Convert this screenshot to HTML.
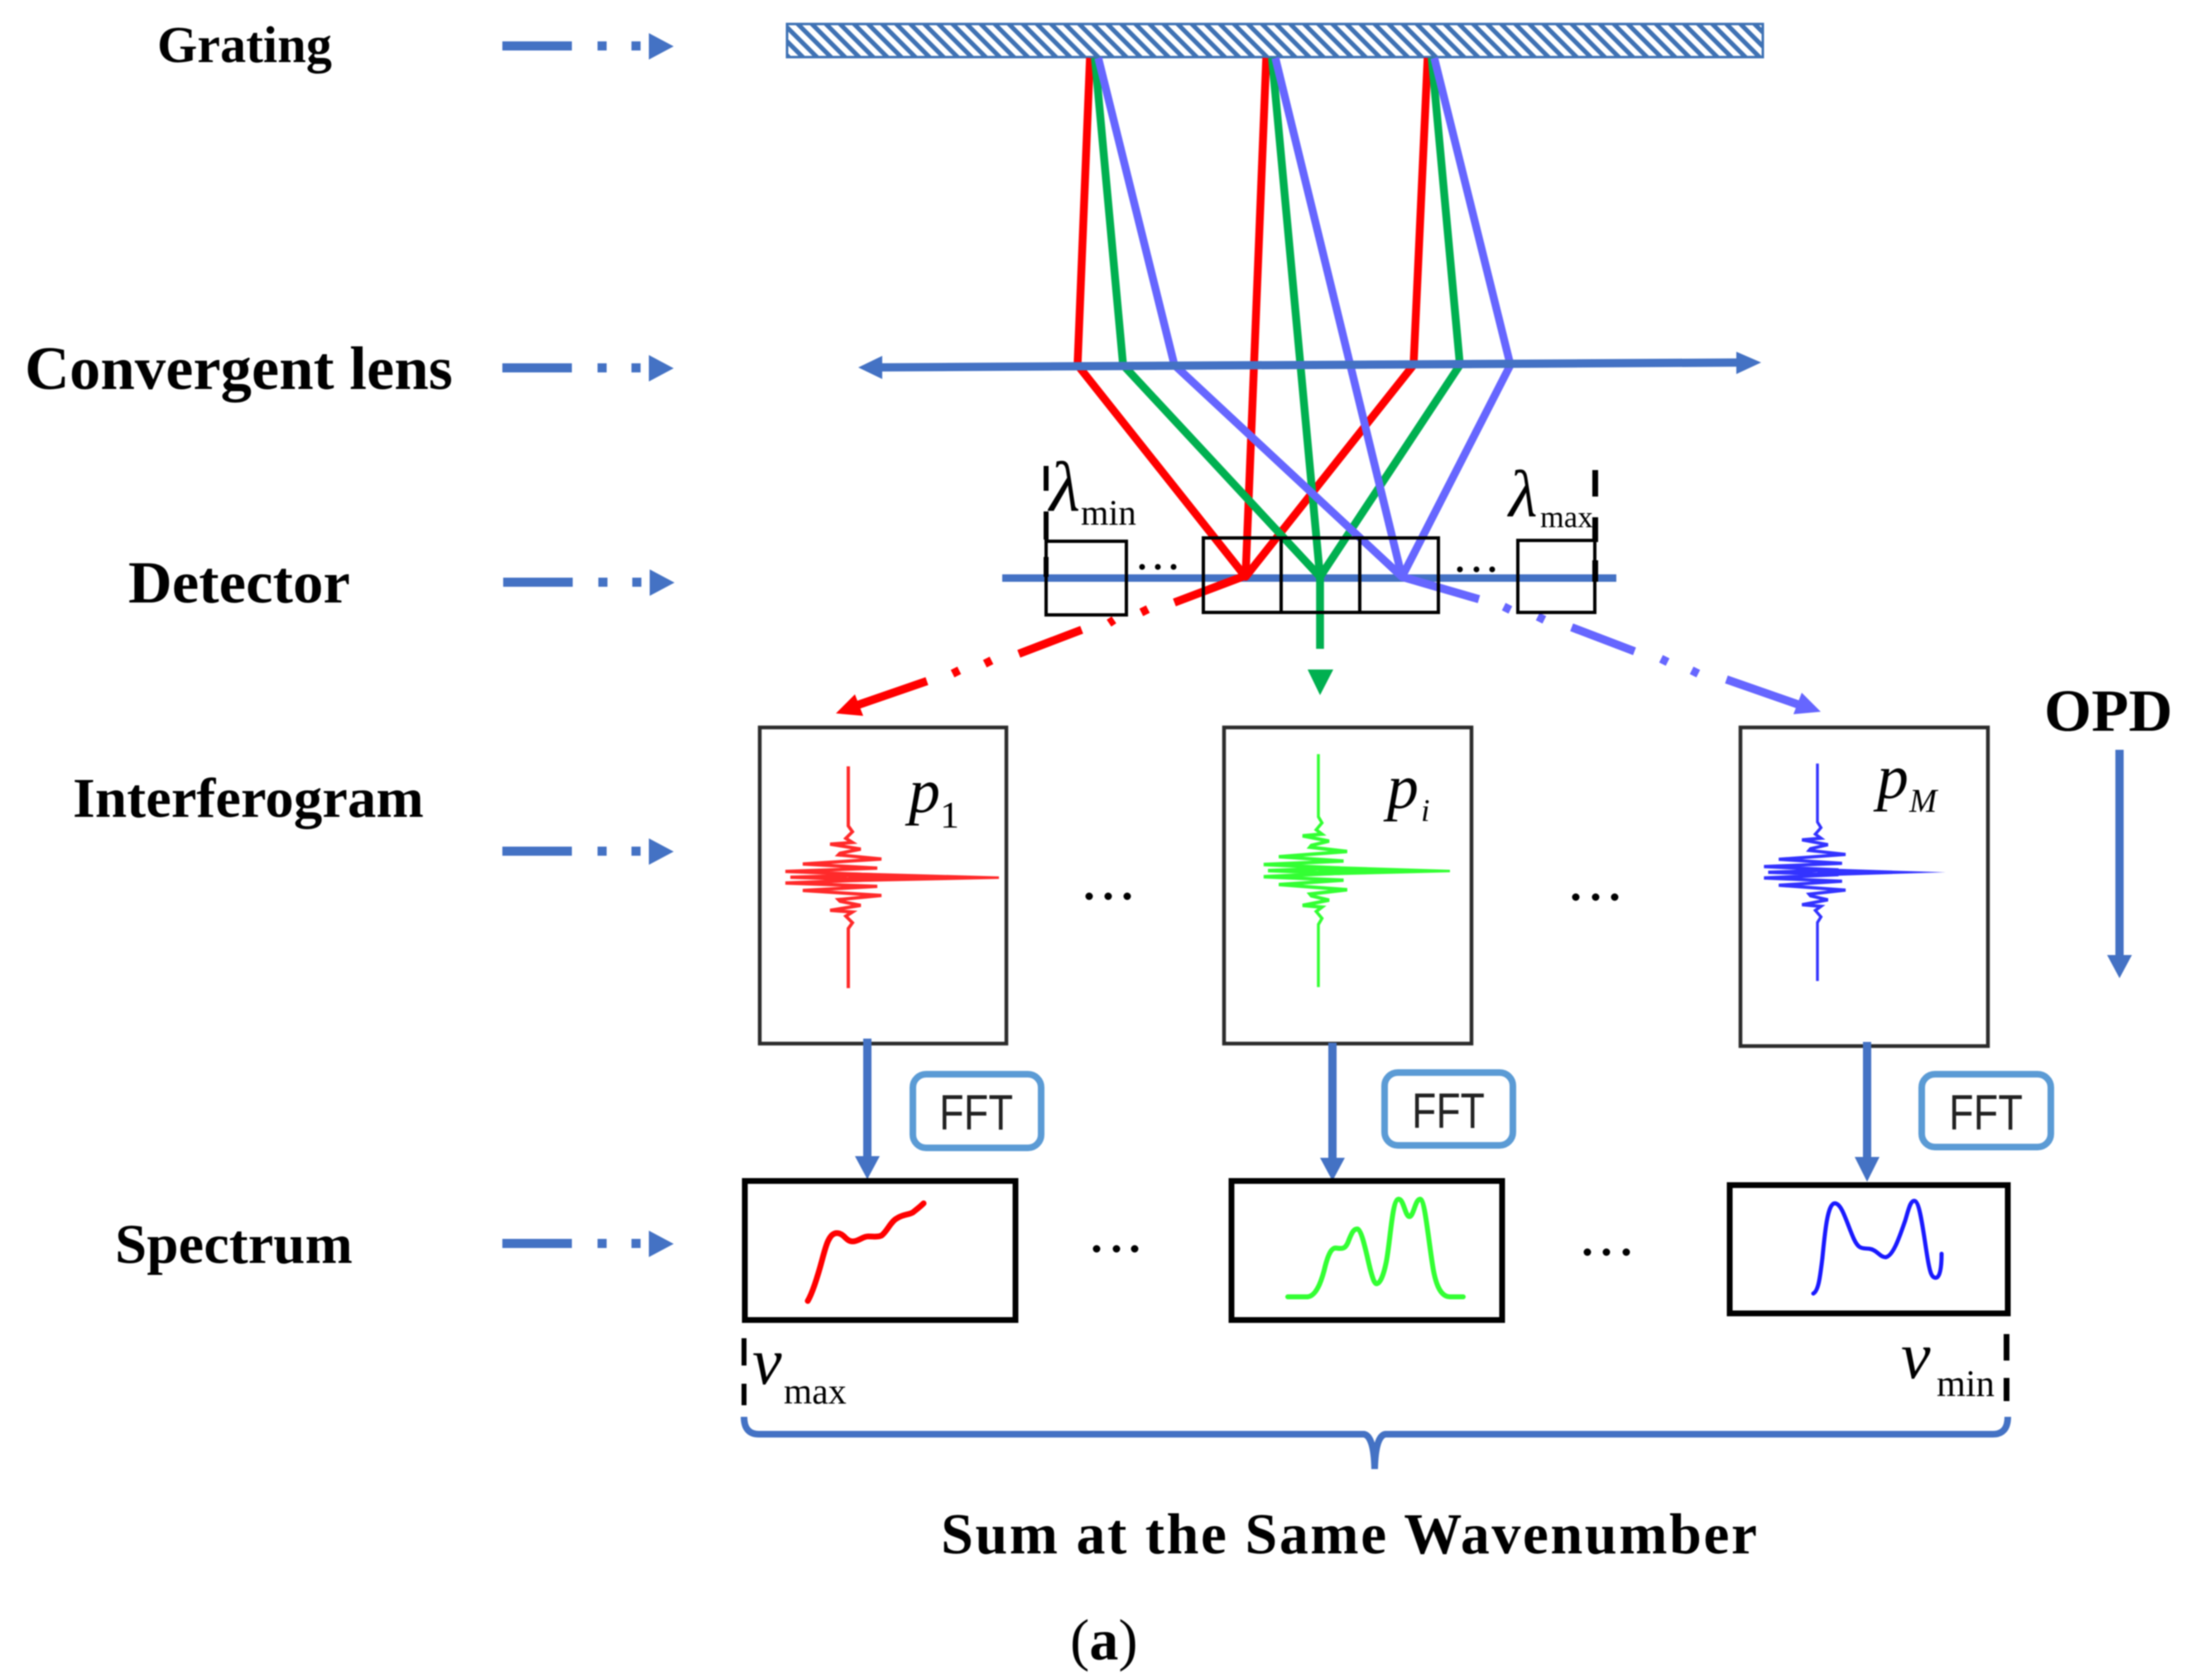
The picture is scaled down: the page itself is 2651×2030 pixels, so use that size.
<!DOCTYPE html>
<html>
<head>
<meta charset="utf-8">
<title>Diagram</title>
<style>
html,body{margin:0;padding:0;background:#fff}
svg{display:block;filter:blur(.8px)}
text{font-family:"Liberation Serif",serif;fill:#000}
.b{font-weight:bold}
.i{font-style:italic}
</style>
</head>
<body>
<svg xmlns="http://www.w3.org/2000/svg" width="2651" height="2030" viewBox="0 0 2651 2030">
<defs>
<pattern id="h" patternUnits="userSpaceOnUse" width="17" height="17">
<rect width="17" height="17" fill="#fff"/>
<path d="M-4,-4L21,21M-4,13L4,21M13,-4L21,4" stroke="#3f72b4" stroke-width="5.5"/>
</pattern>
<g id="la">
<rect x="607" y="-6" width="84" height="11" fill="#4472c4"/>
<rect x="722" y="-6" width="11" height="11" fill="#4472c4"/>
<rect x="763" y="-6" width="11" height="11" fill="#4472c4"/>
<polygon points="784,-16 814,0 784,16" fill="#4472c4"/>
</g>
<path id="w" fill="none" d="M0,-134L0,-62L5,-55L-3,-47L5,-42L-22,-40L15,-34L-10,-29L-12,-27L40,-22L-55,-16L35,-11L-76,-7L30,-3L-70,0L30,3L-76,7L35,11L-55,16L40,22L-12,27L-10,29L15,34L-22,40L5,42L-3,47L5,55L0,62L0,134"/>
</defs>

<rect width="2651" height="2030" fill="#fff"/>

<!-- Grating -->
<rect x="951" y="29" width="1179" height="40" fill="url(#h)" stroke="#3f72b4" stroke-width="3"/>

<!-- Left labels and arrows -->
<text class="b" x="190" y="75" font-size="62" textLength="211" lengthAdjust="spacingAndGlyphs">Grating</text>
<text class="b" x="30" y="470" font-size="74" textLength="517" lengthAdjust="spacingAndGlyphs">Convergent lens</text>
<text class="b" x="155" y="728" font-size="72" textLength="268" lengthAdjust="spacingAndGlyphs">Detector</text>
<text class="b" x="88" y="987" font-size="68" textLength="424" lengthAdjust="spacingAndGlyphs">Interferogram</text>
<text class="b" x="139" y="1526" font-size="68" textLength="287" lengthAdjust="spacingAndGlyphs">Spectrum</text>
<use href="#la" transform="translate(0,56)"/>
<use href="#la" transform="translate(0,445)"/>
<use href="#la" transform="translate(1,704)"/>
<use href="#la" transform="translate(0,1029)"/>
<use href="#la" transform="translate(0,1503)"/>

<!-- Detector line -->
<rect x="1211" y="694" width="742" height="9" fill="#4472c4"/>

<!-- Rays -->
<g fill="none" stroke-width="9.5" stroke-linejoin="round">
<g stroke="#ff0000">
<polyline points="1317,70 1302,441 1505,697 1708,441 1725,70"/>
<polyline points="1530,70 1505,697"/>
</g>
<g stroke="#00b050">
<polyline points="1323,70 1357,441 1595,697 1764,441 1730,70"/>
<polyline points="1537,70 1595,697 1595,784"/>
</g>
<g stroke="#6666ff">
<polyline points="1327,70 1419,441 1694,697 1825,441 1733,70"/>
<polyline points="1541,70 1694,697"/>
</g>
</g>
<polygon points="1580,809 1611,809 1595,840" fill="#00b050"/>

<!-- Lens -->
<line x1="1050" y1="444" x2="2110" y2="438" stroke="#4472c4" stroke-width="10"/>
<polygon points="1037,444 1066,430 1066,458" fill="#4472c4"/>
<polygon points="2128,438 2098,425 2098,452" fill="#4472c4"/>

<!-- Dash-dot arrows -->
<g fill="none" stroke="#ff0000" stroke-width="10">
<line x1="1501" y1="697" x2="1419" y2="728"/>
<line x1="1387" y1="736" x2="1379" y2="740"/>
<line x1="1346" y1="749" x2="1340" y2="753"/>
<line x1="1307" y1="761" x2="1231" y2="790"/>
<line x1="1198" y1="798" x2="1190" y2="802"/>
<line x1="1159" y1="810" x2="1151" y2="814"/>
<line x1="1120" y1="823" x2="1036" y2="852"/>
</g>
<polygon points="1010,862 1043,865 1033,839" fill="#ff0000"/>
<g fill="none" stroke="#6666ff" stroke-width="10">
<line x1="1694" y1="697" x2="1787" y2="724"/>
<line x1="1817" y1="733" x2="1825" y2="737"/>
<line x1="1858" y1="745" x2="1866" y2="749"/>
<line x1="1899" y1="758" x2="1975" y2="787"/>
<line x1="2007" y1="796" x2="2015" y2="800"/>
<line x1="2044" y1="810" x2="2052" y2="814"/>
<line x1="2086" y1="821" x2="2172" y2="851"/>
</g>
<polygon points="2200,860 2167,863 2177,837" fill="#6666ff"/>

<!-- Detector boxes -->
<g fill="none" stroke="#000" stroke-width="4">
<rect x="1264" y="654" width="97" height="89"/>
<rect x="1454" y="650" width="284" height="90"/>
<line x1="1548" y1="650" x2="1548" y2="740"/>
<line x1="1643" y1="650" x2="1643" y2="740"/>
<rect x="1834" y="653" width="93" height="87"/>
</g>
<g fill="#000">
<circle cx="1380" cy="685" r="3.5"/><circle cx="1399" cy="685" r="3.5"/><circle cx="1418" cy="685" r="3.5"/>
<circle cx="1764" cy="688" r="3.5"/><circle cx="1784" cy="688" r="3.5"/><circle cx="1803" cy="688" r="3.5"/>
<rect x="1261" y="563" width="6" height="30"/><rect x="1261" y="618" width="6" height="34"/><rect x="1261" y="673" width="6" height="24"/>
<rect x="1924" y="568" width="7" height="32"/><rect x="1924" y="625" width="7" height="30"/><rect x="1924" y="677" width="7" height="26"/>
</g>
<text class="i" x="1268" y="617" font-size="86">λ</text>
<text x="1306" y="634" font-size="43">min</text>
<text class="i" x="1823" y="624" font-size="80">λ</text>
<text x="1861" y="637" font-size="37">max</text>

<!-- Interferogram boxes -->
<g fill="none" stroke="#2c2c2c" stroke-width="4.5">
<rect x="918" y="879" width="298" height="382"/>
<rect x="1479" y="879" width="299" height="382"/>
<rect x="2103" y="879" width="299" height="385"/>
</g>
<use href="#w" transform="translate(1025,1060)" stroke="#ff2a2a" stroke-width="4"/>
<polygon points="1025,1054 1207,1059 1207,1062 1025,1066" fill="#ff2a2a"/>
<use href="#w" transform="translate(1593,1052) scale(.87,1.05)" stroke="#33ff33" stroke-width="4"/>
<polygon points="1593,1046 1752,1051 1752,1054 1593,1058" fill="#33ff33"/>
<use href="#w" transform="translate(2196,1054) scale(.85,.98)" stroke="#3333ff" stroke-width="4"/>
<polygon points="2196,1049 2351,1054 2196,1059" fill="#3333ff"/>

<text class="i" x="1098" y="981" font-size="76">p</text>
<text x="1136" y="1000" font-size="46">1</text>
<text class="i" x="1676" y="976" font-size="76">p</text>
<text class="i" x="1717" y="992" font-size="38">i</text>
<text class="i" x="2268" y="964" font-size="76">p</text>
<text class="i" x="2307" y="981" font-size="40">M</text>

<!-- Dots -->
<g fill="#000">
<circle cx="1316" cy="1083" r="4.5"/><circle cx="1339" cy="1083" r="4.5"/><circle cx="1362" cy="1083" r="4.5"/>
<circle cx="1904" cy="1084" r="4.5"/><circle cx="1928" cy="1084" r="4.5"/><circle cx="1951" cy="1084" r="4.5"/>
<circle cx="1325" cy="1509" r="4.5"/><circle cx="1349" cy="1509" r="4.5"/><circle cx="1371" cy="1509" r="4.5"/>
<circle cx="1918" cy="1513" r="4.5"/><circle cx="1941" cy="1513" r="4.5"/><circle cx="1965" cy="1513" r="4.5"/>
</g>

<!-- FFT arrows -->
<g fill="#4472c4">
<rect x="1043" y="1255" width="10" height="145"/><polygon points="1033,1397 1063,1397 1048,1425"/>
<rect x="1605" y="1260" width="10" height="140"/><polygon points="1595,1399 1625,1399 1610,1427"/>
<rect x="2251" y="1259" width="10" height="140"/><polygon points="2241,1398 2271,1398 2256,1428"/>
<rect x="2556" y="906" width="10" height="250"/><polygon points="2546,1154 2576,1154 2561,1182"/>
</g>

<!-- FFT boxes -->
<g fill="#fff" stroke="#5b9bd5" stroke-width="8">
<rect x="1103" y="1298" width="155" height="89" rx="16"/>
<rect x="1673" y="1296" width="155" height="88" rx="16"/>
<rect x="2322" y="1298" width="156" height="88" rx="16"/>
</g>
<text x="1135" y="1365" font-size="60" textLength="89" lengthAdjust="spacingAndGlyphs" style="font-family:'Liberation Sans',sans-serif;fill:#222">FFT</text>
<text x="1706" y="1363" font-size="60" textLength="88" lengthAdjust="spacingAndGlyphs" style="font-family:'Liberation Sans',sans-serif;fill:#222">FFT</text>
<text x="2355" y="1365" font-size="60" textLength="89" lengthAdjust="spacingAndGlyphs" style="font-family:'Liberation Sans',sans-serif;fill:#222">FFT</text>

<!-- Spectrum boxes -->
<g fill="none" stroke="#000" stroke-width="7">
<rect x="900" y="1427" width="327" height="168"/>
<rect x="1488" y="1427" width="327" height="168"/>
<rect x="2090" y="1432" width="336" height="155"/>
</g>
<g fill="none" stroke-linejoin="round" stroke-linecap="round">
<path d="M976,1572C983,1560 990,1535 994,1520C998,1505 1002,1490 1011,1490C1020,1490 1022,1500 1030,1500C1038,1500 1042,1494 1049,1494C1056,1494 1060,1495 1065,1493C1072,1488 1076,1476 1084,1472C1092,1467 1098,1468 1103,1465C1108,1461 1112,1458 1116,1454" stroke="#ff0000" stroke-width="7"/>
<path d="M1556,1567L1580,1567C1590,1566 1596,1550 1600,1535C1604,1518 1608,1508 1614,1508C1622,1509 1626,1510 1630,1498C1634,1488 1636,1485 1640,1485C1646,1486 1652,1520 1656,1535C1659,1546 1661,1552 1664,1551C1668,1550 1672,1540 1675,1525C1680,1500 1682,1449 1690,1449C1696,1449 1698,1470 1703,1470C1708,1470 1710,1449 1716,1449C1722,1450 1726,1500 1732,1535C1736,1556 1742,1567 1752,1567L1768,1567" stroke="#33ff33" stroke-width="6"/>
<path d="M2191,1563C2197,1560 2199,1545 2202,1520C2205,1490 2208,1454 2217,1454C2226,1454 2232,1480 2240,1497C2246,1510 2250,1508 2259,1509C2268,1510 2272,1520 2279,1519C2288,1517 2296,1492 2302,1475C2306,1462 2308,1451 2313,1451C2320,1451 2324,1490 2329,1520C2332,1538 2334,1544 2339,1544C2344,1544 2346,1532 2346,1515" stroke="#1a1aff" stroke-width="5"/>
</g>

<!-- OPD -->
<text class="b" x="2470" y="883" font-size="72" textLength="155" lengthAdjust="spacingAndGlyphs">OPD</text>

<!-- nu labels -->
<g fill="#000">
<rect x="896" y="1617" width="6" height="33"/><rect x="896" y="1672" width="6" height="26"/>
<rect x="2421" y="1612" width="7" height="32"/><rect x="2421" y="1665" width="7" height="28"/>
</g>
<text class="i" x="909" y="1672" font-size="80">ν</text>
<text x="947" y="1696" font-size="44">max</text>
<text class="i" x="2297" y="1665" font-size="80">ν</text>
<text x="2340" y="1687" font-size="45">min</text>

<!-- Brace -->
<path d="M899,1712Q899,1733 917,1733L1648,1733Q1660,1735 1661,1775Q1662,1735 1674,1733L2408,1733Q2426,1733 2426,1712" fill="none" stroke="#4472c4" stroke-width="8"/>

<text class="b" x="1137" y="1877" font-size="70" textLength="986" lengthAdjust="spacing">Sum at the Same Wavenumber</text>
<text x="1293" y="2005" font-size="70">(<tspan class="b">a</tspan>)</text>
</svg>
</body>
</html>
